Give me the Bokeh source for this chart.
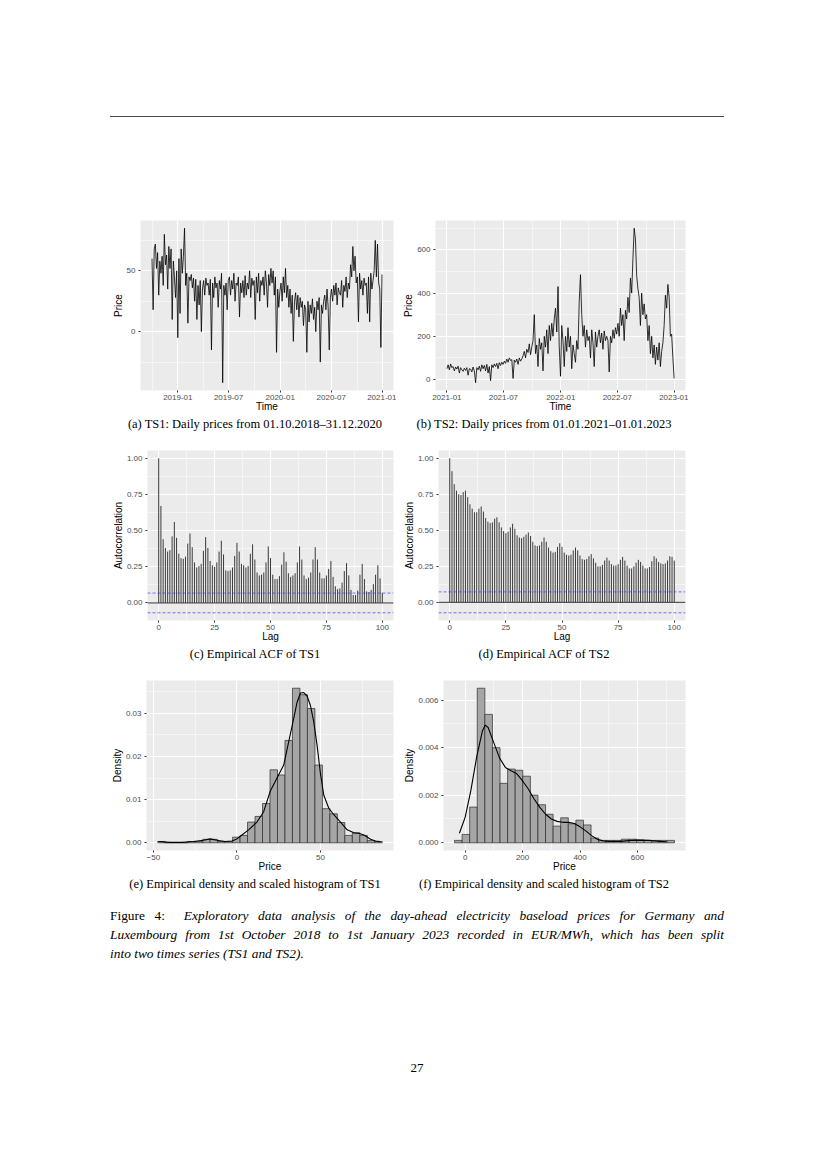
import pandas as pd
from bokeh.plotting import figure
from bokeh.layouts import column, row
from bokeh.models import (Range1d, FixedTicker, DatetimeTickFormatter, NumeralTickFormatter,
                          Span, Div, Spacer)
from bokeh.embed import file_html
from bokeh.resources import INLINE

# ---------------- data ----------------
ts1_start = "2018-10-01"
ts1_step_days = 4
ts1_price = [
    60, 18, 68, 72, 52, 65, 30, 58,          # Oct 2018
    48, 62, 38, 80, 55, 63, 35, 70,          # Nov
    52, 68, 10, 58, 45, 28, 50,              # Dec
    -5, 60, 15, 68, 48, 62, 85, 38,          # Jan 2019
    48, 7, 45, 42, 47, 36, 44,               # Feb
    25, 43, 10, 38, 22, 42, 0, 35,           # Mar
    42, 30, 44, 38, 40, 30, 43,              # Apr
    -15, 40, 28, 45, 36, 40, 20, 42,         # May
    35, 48, -42, 38, 30, 40, 18, 42,         # Jun
    45, 30, 42, 35, 48, 25, 40,              # Jul
    38, 45, 12, 40, 32, 42, 28, 46,          # Aug
    30, 40, 35, 50, 28, 44, 38, 42,          # Sep
    10, 45, 32, 48, 25, 42, 38,              # Oct
    45, 30, 50, 40, 20, 47, 38, 52,          # Nov
    40, 50, 30, 45, -17, 35, 20, 33,         # Dec
    40, 25, 45, 32, 52, 28, 38,              # Jan 2020
    20, 35, 15, 30, -8, 25, 32, 18,          # Feb
    30, 12, 28, 20, 25, 5, 22,               # Mar
    18, -17, 25, 8, 22, 15, 27, 10,          # Apr
    20, 0, 25, 18, 28, -25, 22, 15,          # May
    25, 30, 18, 35, 20, -15, 28,             # Jun
    35, 25, 38, 30, 40, 22, 36, 32,          # Jul
    30, 42, 20, 38, 33, 45, 28, 40,          # Aug
    35, 55, 45, 70, 50, 62, 40,              # Sep
    45, 8, 48, 35, 42, 30, 44, 38,           # Oct
    40, 15, 45, 8, 48, 35, 42,               # Nov
    50, 75, 45, 72, 40, 35, -13, 47,         # Dec
]

ts2_start = "2021-01-01"
ts2_step_days = 4
ts2_price = [
    50, 68, 45, 72, 55, 60, 40, 58,          # Jan 2021
    48, 62, 30, 55, 45, 38, 52,              # Feb
    42, 55, 20, 50, 48, 35, 58, 40,          # Mar
    -15, 55, 45, 62, 38, 68, 50,             # Apr
    65, 40, 70, 30, 60, -5, 68, 55,          # May
    72, 60, 75, 50, 78, 65, 80, 70,          # Jun
    85, 75, 95, 80, 100, 88, 92,             # Jul
    5, 90, 80, 95, 70, 100, 85, 95,          # Aug
    110, 130, 100, 140, 125, 165, 115, 150,  # Sep
    180, 300, 120, 160, 60, 190, 140,        # Oct
    170, 40, 200, 150, 230, 120, 250, 180,   # Nov
    260, 200, 280, 330, 220, 430, 150, 15,   # Dec
    250, 180, 60, 200, 130, 240, 150,        # Jan 2022
    200, 50, 160, 120, 80, 180, 140,         # Feb
    360, 485, 300, 200, 250, 150, 230, 180,  # Mar
    200, 100, 230, 170, 60, 220, 150, 200,   # Apr
    230, 170, 215, 140, 225, 180, 200,       # May
    180, 35, 200, 170, 230, 190, 240, 210,   # Jun
    260, 200, 330, 250, 300, 180, 320, 280,  # Jul
    380, 310, 470, 400, 560, 700, 650,       # Aug
    480, 420, 380, 250, 400, 300, 350, 280,  # Sep
    300, 180, 250, 120, 200, 100, 160, 70,   # Oct
    150, 90, 170, 60, 130, 170, 250,         # Nov
    390, 330, 440, 380, 200, 210, 100, 5,    # Dec
]

acf_lags = list(range(101))
acf_ts1 = [1.00, 0.67, 0.44, 0.38, 0.355, 0.365, 0.46, 0.56, 0.45, 0.34,
           0.31, 0.305, 0.32, 0.41, 0.48, 0.385, 0.28, 0.245, 0.255, 0.27,
           0.36, 0.455, 0.38, 0.29, 0.26, 0.25, 0.28, 0.355, 0.43, 0.335,
           0.225, 0.22, 0.225, 0.245, 0.325, 0.415, 0.355, 0.27, 0.26, 0.245,
           0.255, 0.34, 0.405, 0.30, 0.21, 0.19, 0.195, 0.21, 0.28, 0.39,
           0.31, 0.195, 0.165, 0.165, 0.185, 0.265, 0.35, 0.285, 0.205, 0.18,
           0.19, 0.205, 0.28, 0.39, 0.30, 0.19, 0.165, 0.175, 0.21, 0.30,
           0.385, 0.30, 0.21, 0.17, 0.17, 0.19, 0.235, 0.29, 0.18, 0.115,
           0.095, 0.10, 0.14, 0.22, 0.275, 0.19, 0.09, 0.055, 0.055, 0.085,
           0.195, 0.27, 0.165, 0.08, 0.075, 0.09, 0.13, 0.195, 0.26, 0.17,
           0.07]
acf_ts2 = [1.00, 0.91, 0.82, 0.775, 0.75, 0.745, 0.765, 0.775, 0.73, 0.68,
           0.65, 0.625, 0.625, 0.65, 0.665, 0.63, 0.585, 0.56, 0.55, 0.555,
           0.58, 0.59, 0.555, 0.52, 0.495, 0.48, 0.49, 0.52, 0.545, 0.51,
           0.465, 0.45, 0.445, 0.455, 0.47, 0.485, 0.46, 0.42, 0.395, 0.39,
           0.395, 0.42, 0.45, 0.42, 0.38, 0.355, 0.345, 0.35, 0.385, 0.41,
           0.385, 0.345, 0.33, 0.325, 0.33, 0.36, 0.38, 0.36, 0.325, 0.30,
           0.295, 0.30, 0.32, 0.335, 0.305, 0.275, 0.25, 0.25, 0.26, 0.29,
           0.31, 0.29, 0.265, 0.255, 0.255, 0.265, 0.295, 0.315, 0.29, 0.255,
           0.235, 0.235, 0.25, 0.275, 0.295, 0.28, 0.255, 0.235, 0.235, 0.245,
           0.285, 0.32, 0.305, 0.28, 0.27, 0.265, 0.27, 0.29, 0.32, 0.315,
           0.29]
acf_ci_ts1 = 0.068
acf_ci_ts2 = 0.0725

hist1_start = -47.4
hist1_width = 4.48
hist1_density = [0.0003, 0.0, 0.0, 0.0, 0.0003, 0.0003, 0.0008, 0.0008, 0.0003, 0.0003,
                 0.0013, 0.0017, 0.0048, 0.0061, 0.0091, 0.0169, 0.0157, 0.0237, 0.0358, 0.0343,
                 0.0311, 0.0180, 0.0079, 0.0067, 0.0047, 0.0017, 0.0023, 0.0017, 0.0005, 0.0003]
kde1_x = [-47, -40, -33, -26, -20, -16, -12, -7, -3, 0, 3, 7, 12, 16, 20, 24, 28, 33, 36, 38,
          40, 42, 44, 46, 48, 50, 52, 55, 58, 62, 66, 70, 73, 76, 80, 83, 86]
kde1_y = [0.0003, 0.0001, 0.0001, 0.0003, 0.0006, 0.0009, 0.0006, 0.0003, 0.0004, 0.0009,
          0.0018, 0.0030, 0.0048, 0.0072, 0.0120, 0.0150, 0.0180, 0.0270, 0.0325, 0.0347,
          0.0348, 0.0340, 0.0318, 0.0280, 0.0225, 0.0160, 0.0110, 0.0080, 0.0065, 0.0048,
          0.0030, 0.0023, 0.0022, 0.0018, 0.0008, 0.0004, 0.0002]

hist2_start = -37.0
hist2_width = 26.4
hist2_density = [0.0001, 0.00035, 0.0015, 0.0065, 0.0054, 0.0040, 0.0025, 0.0031, 0.00305, 0.0028,
                 0.0020, 0.0016, 0.0012, 0.0007, 0.00105, 0.0008, 0.00095, 0.00075, 0.0002, 0.0001,
                 0.0001, 0.0001, 0.00015, 0.00015, 0.00012, 0.0001, 0.0001, 0.0001, 0.0001]
kde2_x = [-20, 0, 20, 40, 60, 70, 80, 100, 120, 140, 160, 180, 200, 220, 240, 260, 280, 300,
          320, 340, 360, 380, 400, 420, 440, 460, 480, 500, 540, 580, 600, 640, 680, 700]
kde2_y = [0.0004, 0.00107, 0.0022, 0.0036, 0.0047, 0.00495, 0.00485, 0.0042, 0.00356, 0.00317,
          0.00303, 0.0029, 0.0026, 0.00226, 0.00184, 0.00149, 0.0012, 0.0010, 0.0009, 0.00086,
          0.00086, 0.00081, 0.00067, 0.0005, 0.0003, 0.00015, 0.00008, 0.00006, 0.00006, 0.0001,
          0.00011, 0.0001, 0.00006, 0.00004]

ts1_date_ticks = ["2019-01-01", "2019-07-01", "2020-01-01", "2020-07-01", "2021-01-01"]
ts1_date_minor = ["2018-10-01", "2019-04-01", "2019-10-01", "2020-04-01", "2020-10-01"]
ts2_date_ticks = ["2021-01-01", "2021-07-01", "2022-01-01", "2022-07-01", "2023-01-01"]
ts2_date_minor = ["2021-04-01", "2021-10-01", "2022-04-01", "2022-10-01"]

captions = [
    "(a) TS1: Daily prices from 01.10.2018\u201331.12.2020",
    "(b) TS2: Daily prices from 01.01.2021\u201301.01.2023",
    "(c) Empirical ACF of TS1",
    "(d) Empirical ACF of TS2",
    "(e) Empirical density and scaled histogram of TS1",
    "(f) Empirical density and scaled histogram of TS2",
]

# ---------------- helpers ----------------
SANS = "Liberation Sans"
SERIF = "Liberation Serif"
PANEL_BG = "#EBEBEB"


def ms(s):
    return pd.Timestamp(s).value / 1e6


def expand(lo, hi, f=0.05):
    d = (hi - lo) * f
    return lo - d, hi + d


def make_fig(width, left, xr, yr, x_type="linear"):
    p = figure(width=width, height=200, x_range=xr, y_range=yr, x_axis_type=x_type,
               output_backend="svg", toolbar_location=None, tools="",
               min_border_left=left, min_border_right=3, min_border_top=4, min_border_bottom=26)
    p.background_fill_color = PANEL_BG
    p.border_fill_color = "white"
    p.outline_line_color = None
    for g in (p.xgrid, p.ygrid):
        g.grid_line_color = "white"
        g.grid_line_width = 1.1
        g.minor_grid_line_color = "white"
        g.minor_grid_line_width = 0.5
    for ax in (p.xaxis, p.yaxis):
        ax.axis_line_color = None
        ax.major_tick_line_color = "#333333"
        ax.major_tick_in = 0
        ax.major_tick_out = 2
        ax.minor_tick_line_color = None
        ax.major_label_text_font = SANS
        ax.major_label_text_font_size = "8px"
        ax.major_label_text_color = "#4D4D4D"
        ax.axis_label_text_font = SANS
        ax.axis_label_text_font_size = "10px"
        ax.axis_label_text_font_style = "normal"
        ax.axis_label_text_color = "black"
    p.xaxis.major_label_standoff = 0
    p.xaxis.axis_label_standoff = -2
    p.yaxis.major_label_standoff = 1
    p.yaxis.axis_label_standoff = 0
    return p


def date_fmt():
    f = "%Y-%m"
    return DatetimeTickFormatter(days=f, months=f, years=f, hours=f, minutes=f,
                                 strip_leading_zeros=False)


def ts_fig(width, left, start, step, vals, ticks, minor, yticks, yminor):
    dates = pd.date_range(start, periods=len(vals), freq=f"{step}D")
    x0, x1 = expand(dates[0], dates[-1])
    y0, y1 = expand(min(vals), max(vals))
    p = make_fig(width, left, Range1d(x0.to_pydatetime(), x1.to_pydatetime()),
                 Range1d(y0, y1), "datetime")
    p.line(dates, vals, line_color="black", line_width=0.8)
    p.xaxis.ticker = FixedTicker(ticks=[ms(t) for t in ticks], minor_ticks=[ms(t) for t in minor])
    p.xaxis.formatter = date_fmt()
    p.yaxis.ticker = FixedTicker(ticks=yticks, minor_ticks=yminor)
    p.xaxis.axis_label = "Time"
    p.yaxis.axis_label = "Price"
    return p


def acf_fig(width, left, acf, ci):
    y0, y1 = expand(-ci, max(acf))
    p = make_fig(width, left, Range1d(*expand(0, 100)), Range1d(y0, y1))
    p.segment(x0=acf_lags, y0=[0] * len(acf), x1=acf_lags, y1=acf, line_color="#3a3a3a", line_width=1.0)
    p.add_layout(Span(location=0, dimension="width", line_color="#333333", line_width=1.0))
    for s in (ci, -ci):
        p.add_layout(Span(location=s, dimension="width", line_color="#3a3aff", line_width=0.7,
                          line_dash="3 2"))
    p.xaxis.ticker = FixedTicker(ticks=[0, 25, 50, 75, 100], minor_ticks=[12.5, 37.5, 62.5, 87.5])
    p.yaxis.ticker = FixedTicker(ticks=[0, 0.25, 0.5, 0.75, 1.0], minor_ticks=[0.125, 0.375, 0.625, 0.875])
    p.yaxis.formatter = NumeralTickFormatter(format="0.00")
    p.xaxis.axis_label = "Lag"
    p.yaxis.axis_label = "Autocorrelation"
    return p


def hist_fig(width, left, start, bw, dens, kx, ky, xticks, xminor, yticks, yminor, yfmt):
    n = len(dens)
    lefts = [start + bw * i for i in range(n)]
    rights = [start + bw * (i + 1) for i in range(n)]
    p = make_fig(width, left, Range1d(*expand(lefts[0], rights[-1])), Range1d(*expand(0, max(dens))))
    p.quad(left=lefts, right=rights, bottom=0, top=dens, fill_color="#A6A6A6",
           line_color="#2b2b2b", line_width=0.7)
    p.line(kx, ky, line_color="black", line_width=1.1)
    p.xaxis.ticker = FixedTicker(ticks=xticks, minor_ticks=xminor)
    p.yaxis.ticker = FixedTicker(ticks=yticks, minor_ticks=yminor)
    p.yaxis.formatter = NumeralTickFormatter(format=yfmt)
    p.xaxis.axis_label = "Price"
    p.yaxis.axis_label = "Density"
    return p


# ---------------- panels ----------------
LW, RW = 288, 290
fa = ts_fig(LW, 32, ts1_start, ts1_step_days, ts1_price, ts1_date_ticks, ts1_date_minor,
            [0, 50], [-25, 25, 75])
fb = ts_fig(RW, 37, ts2_start, ts2_step_days, ts2_price, ts2_date_ticks, ts2_date_minor,
            [0, 200, 400, 600], [100, 300, 500, 700])
fc = acf_fig(LW, 39, acf_ts1, acf_ci_ts1)
fd = acf_fig(RW, 40, acf_ts2, acf_ci_ts2)
fe = hist_fig(LW, 37, hist1_start, hist1_width, hist1_density, kde1_x, kde1_y,
              [-50, 0, 50], [-25, 25, 75], [0, 0.01, 0.02, 0.03], [0.005, 0.015, 0.025, 0.035], "0.00")
ff = hist_fig(RW, 45, hist2_start, hist2_width, hist2_density, kde2_x, kde2_y,
              [0, 200, 400, 600], [100, 300, 500, 700], [0, 0.002, 0.004, 0.006],
              [0.001, 0.003, 0.005], "0.000")


def cap(text, width):
    html = (f'<div style="width:{width}px;text-align:center;font-family:\'{SERIF}\';'
            f'font-size:12.5px;line-height:16px;color:#000;white-space:nowrap">{text}</div>')
    return Div(text=html, width=width, height=16, margin=0)


def fig_row(l, r):
    return row(Spacer(width=108, height=200), l, Spacer(width=2, height=200), r)


def cap_row(a, b):
    return row(Spacer(width=110, height=16), cap(a, 290), cap(b, 288))


line_style = "text-align:justify;text-align-last:justify;white-space:nowrap"
main_caption = (
    f'<div style="width:614px;font-family:\'{SERIF}\';font-size:13.4px;line-height:19px;color:#000">'
    f'<div style="{line_style}">Figure 4:&nbsp; <i>Exploratory data analysis of the day-ahead '
    f'electricity baseload prices for Germany and</i></div>'
    f'<div style="{line_style}"><i>Luxembourg from 1st October 2018 to 1st January 2023 recorded '
    f'in EUR/MWh, which has been split</i></div>'
    f'<div style="white-space:nowrap"><i>into two times series (TS1 and TS2).</i></div></div>'
)
page_num = (f'<div style="width:614px;text-align:center;font-family:\'{SERIF}\';font-size:13px;'
            f'line-height:16px;color:#000">27</div>')

rule = Div(text="", width=614, height=1, margin=0, styles={"background-color": "#4a4a4a"})

layout = column(
    Spacer(width=810, height=116),
    row(Spacer(width=110, height=1), rule),
    Spacer(width=810, height=99),
    fig_row(fa, fb),
    cap_row(captions[0], captions[1]),
    Spacer(width=810, height=14),
    fig_row(fc, fd),
    cap_row(captions[2], captions[3]),
    Spacer(width=810, height=14),
    fig_row(fe, ff),
    cap_row(captions[4], captions[5]),
    Spacer(width=810, height=14),
    row(Spacer(width=110, height=57), Div(text=main_caption, width=614, height=57, margin=0)),
    Spacer(width=810, height=97),
    row(Spacer(width=110, height=16), Div(text=page_num, width=614, height=16, margin=0)),
)

open("out.html", "w").write(file_html(layout, INLINE))
